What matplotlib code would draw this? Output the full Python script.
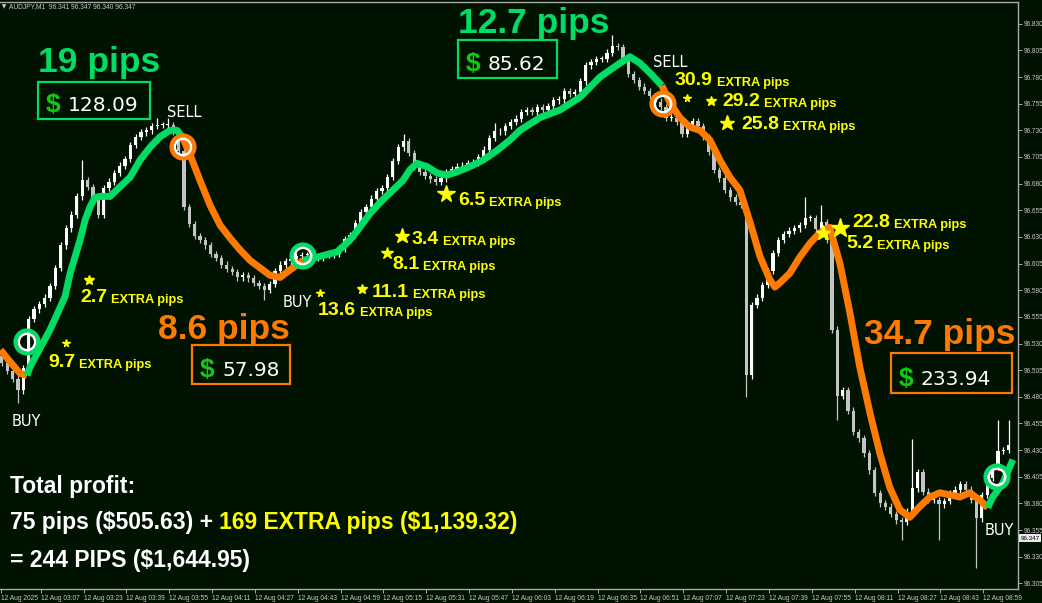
import numpy as np
import matplotlib
matplotlib.use('Agg')
import matplotlib.pyplot as plt
from matplotlib.patches import Circle, Rectangle

# ---- price data: 2-minute bars, AUDJPY 12 Aug 2025 from 02:52 ----
first_open = 96.518
closes = [
    96.512, 96.504, 96.497, 96.486, 96.507, 96.553, 96.562, 96.567, 96.573, 96.584,
    96.601, 96.622, 96.638, 96.651, 96.668, 96.683, 96.677, 96.666, 96.651, 96.676,
    96.682, 96.690, 96.697, 96.703, 96.716, 96.724, 96.728, 96.730, 96.734, 96.735,
    96.735, 96.735, 96.729, 96.711, 96.658, 96.642, 96.631, 96.627, 96.622, 96.614,
    96.610, 96.604, 96.600, 96.597, 96.592, 96.594, 96.591, 96.587, 96.584, 96.580,
    96.586, 96.598, 96.604, 96.607, 96.609, 96.612, 96.613, 96.613, 96.610, 96.610,
    96.613, 96.613, 96.614, 96.619, 96.628, 96.632, 96.643, 96.653, 96.658, 96.666,
    96.673, 96.676, 96.686, 96.701, 96.714, 96.720, 96.709, 96.696, 96.691, 96.687,
    96.684, 96.682, 96.685, 96.691, 96.694, 96.696, 96.697, 96.699, 96.700, 96.705,
    96.712, 96.723, 96.729, 96.729, 96.734, 96.738, 96.741, 96.747, 96.749, 96.747,
    96.752, 96.749, 96.753, 96.758, 96.759, 96.767, 96.764, 96.766, 96.776, 96.791,
    96.794, 96.797, 96.797, 96.803, 96.809, 96.808, 96.798, 96.783, 96.777, 96.771,
    96.767, 96.762, 96.757, 96.752, 96.742, 96.742, 96.738, 96.727, 96.733, 96.739,
    96.734, 96.724, 96.710, 96.693, 96.685, 96.674, 96.667, 96.663, 96.660, 96.500,
    96.566, 96.573, 96.585, 96.598, 96.615, 96.627, 96.633, 96.636, 96.638, 96.641,
    96.648, 96.648, 96.637, 96.644, 96.627, 96.543, 96.481, 96.486, 96.467, 96.447,
    96.441, 96.427, 96.411, 96.390, 96.380, 96.377, 96.370, 96.364, 96.363, 96.373,
    96.394, 96.409, 96.391, 96.383, 96.383, 96.379, 96.382, 96.390, 96.393, 96.398,
    96.393, 96.383, 96.366, 96.388, 96.404, 96.414, 96.429, 96.430, 96.435,
]
spike_highs = {15: 96.702, 29: 96.742, 31: 96.742, 75: 96.727, 92: 96.737, 114: 96.819,
               150: 96.667, 153: 96.660, 170: 96.440, 186: 96.458, 188: 96.458}
spike_lows = {3: 96.474, 49: 96.571, 139: 96.480, 156: 96.458, 168: 96.346,
              175: 96.346, 182: 96.319}

# trend band (minutes after 02:52, price)
band_minutes = [0, 3.5, 7.3, 9.9, 11.0, 18.5, 24.1, 26.0, 29.7, 31.6, 33.4, 35.3, 37.2, 40.9,
                44.6, 48.4, 52.1, 55.8, 59.6, 63.3, 65.9, 68.1, 70.8, 74.5, 78.2, 82.0, 85.7,
                89.4, 93.2, 96.9, 100.6, 104.4, 108.1, 113.0, 118.2, 125.7, 130.5, 134.2, 138.0,
                142.8, 146.6, 150.3, 152.9, 155.5, 159.3, 163.0, 166.7, 170.5, 175.3, 180.2,
                185.4, 190.3, 194.0, 201.5, 208.9, 216.4, 223.9, 231.3, 235.1, 238.8, 242.5,
                247.0, 250.0, 253.7, 257.5, 261.2, 264.9, 268.7, 272.4, 276.1, 279.9, 283.6,
                287.3, 289.2, 291.1, 294.8, 298.5, 302.3, 306.0, 309.7, 313.5, 317.2, 320.9,
                324.7, 328.4, 332.1, 335.9, 339.6, 343.3, 347.1, 350.8, 354.6, 358.3, 362.0,
                365.8, 368.7, 370.6, 374.3, 378.1]
band_prices = [96.524, 96.513, 96.502, 96.500, 96.508, 96.543, 96.574, 96.596, 96.627, 96.646,
               96.658, 96.667, 96.668, 96.668, 96.677, 96.686, 96.702, 96.714, 96.724, 96.730,
               96.730, 96.723, 96.707, 96.683, 96.660, 96.641, 96.629, 96.618, 96.608, 96.601,
               96.594, 96.592, 96.599, 96.608, 96.611, 96.616, 96.627, 96.639, 96.652, 96.665,
               96.674, 96.683, 96.693, 96.699, 96.696, 96.690, 96.688, 96.691, 96.696, 96.702,
               96.711, 96.721, 96.730, 96.742, 96.749, 96.761, 96.780, 96.793, 96.799, 96.793,
               96.784, 96.772, 96.756, 96.742, 96.733, 96.730, 96.721, 96.702, 96.686, 96.674,
               96.644, 96.612, 96.590, 96.583, 96.587, 96.596, 96.611, 96.624, 96.634, 96.639,
               96.605, 96.559, 96.508, 96.465, 96.427, 96.395, 96.374, 96.367, 96.377, 96.386,
               96.390, 96.388, 96.386, 96.390, 96.383, 96.376, 96.386, 96.399, 96.421]
band_turns = [0, 3, 21, 33, 61, 95, 98]   # trend flips: down, up, down, up, down, up

price_ticks = [96.305 + 0.025 * k for k in range(22)]
time_ticks = [0] + [15 + 16 * k for k in range(23)]
time_labels = ['12 Aug 2025', '12 Aug 03:07', '12 Aug 03:23', '12 Aug 03:39', '12 Aug 03:55',
               '12 Aug 04:11', '12 Aug 04:27', '12 Aug 04:43', '12 Aug 04:59', '12 Aug 05:15',
               '12 Aug 05:31', '12 Aug 05:47', '12 Aug 06:03', '12 Aug 06:19', '12 Aug 06:35',
               '12 Aug 06:51', '12 Aug 07:07', '12 Aug 07:23', '12 Aug 07:39', '12 Aug 07:55',
               '12 Aug 08:11', '12 Aug 08:27', '12 Aug 08:43', '12 Aug 08:59']

BG = '#001200'
GREEN = '#00dc64'
ORANGE = '#ff7a00'
YELLOW = '#ffff00'
DOLLAR = '#12c812'
AXC = '#a8a8a8'
SANS = ['Liberation Sans', 'DejaVu Sans']

W, H = 1042, 603
fig = plt.figure(figsize=(W / 100, H / 100), dpi=100, facecolor=BG)
ax = fig.add_axes([0, 14 / H, 1018 / W, 587 / H], facecolor=BG)
ax.set_xlim(-0.2, 380)
ax.set_ylim(96.2997, 96.8504)

# candles
closes_a = np.array(closes)
opens_a = np.r_[first_open, closes_a[:-1]]
bar_x = np.arange(len(closes)) * 2 + 0.5
highs = np.maximum(opens_a, closes_a) + 0.003
lows = np.minimum(opens_a, closes_a) - 0.003
for k, v in spike_highs.items():
    highs[k] = max(highs[k], v)
for k, v in spike_lows.items():
    lows[k] = min(lows[k], v)
up = closes_a >= opens_a
cols = np.where(up, '#ffffff', '#c4c4c4')
ax.vlines(bar_x, lows, highs, colors=cols, lw=0.9, zorder=3)
body = np.maximum(np.abs(closes_a - opens_a), 0.0008)
ax.bar(bar_x, body, bottom=np.minimum(opens_a, closes_a), width=1.2, color=cols, zorder=3)

# trend band
for s in range(len(band_turns) - 1):
    a, b = band_turns[s], band_turns[s + 1]
    c = ORANGE if s % 2 == 0 else GREEN
    ax.plot(band_minutes[a:b + 1], band_prices[a:b + 1], color=c, lw=5,
            solid_capstyle='butt', zorder=4)

# axes styling
ax.yaxis.tick_right()
ax.set_yticks(price_ticks)
ax.set_yticklabels([f'{p:.3f}' for p in price_ticks], fontfamily=SANS, fontsize=4.7,
                   color='#c8c8c8')
ax.set_xticks(time_ticks)
ax.set_xticklabels(time_labels, fontfamily=SANS, fontsize=4.8, color='#c8c8c8', ha='left')
ax.tick_params(axis='both', direction='out', length=3, width=0.7, color=AXC, pad=1.2)
for side in ['right', 'top', 'bottom']:
    ax.spines[side].set_color(AXC)
    ax.spines[side].set_linewidth(1)
ax.spines['left'].set_visible(False)

# ---- overlay in pixel coordinates ----
ov = fig.add_axes([0, 0, 1, 1], facecolor='none')
ov.set_xlim(0, W)
ov.set_ylim(H, 0)
ov.axis('off')

ov.text(2, 6.5, '▼', fontsize=4, color='#d0d0d0', va='center')
ov.text(9, 6.5, 'AUDJPY,M1  96.341 96.347 96.340 96.347', fontsize=4.8, color='#c8c8c8',
        va='center', fontfamily=SANS)
ov.text(1020.5, 538, '96.347', fontsize=4.5, color='#000000', va='center', fontfamily=SANS,
        bbox=dict(boxstyle='square,pad=0.2', fc='#e8e8e8', ec='none'))

# trade result headlines
for x, y, s, c in [(38, 72, '19 pips', GREEN), (458, 33, '12.7 pips', GREEN),
                   (158, 339, '8.6 pips', ORANGE), (864, 344, '34.7 pips', ORANGE)]:
    ov.text(x, y, s, fontsize=25.5, fontweight='bold', color=c, fontfamily=SANS,
            va='baseline')

# profit boxes
for (l, t, r, b), c, val in [((38, 82, 150, 119), GREEN, '128.09'),
                             ((192, 345, 290, 384), ORANGE, '57.98'),
                             ((458, 40, 557, 78), GREEN, '85.62'),
                             ((891, 353, 1012, 393), ORANGE, '233.94')]:
    ov.add_patch(Rectangle((l, t), r - l, b - t, fill=False, ec=c, lw=1.6))
    ov.text(l + 8, b - 7, '$', fontsize=19, fontweight='bold', color=DOLLAR,
            fontfamily=SANS, va='baseline')
    ov.text(l + 30, b - 8, val, fontsize=14.5, color='#ffffff', va='baseline')

# signal labels
for x, y, s in [(167, 117, 'SELL'), (653, 67, 'SELL'), (12, 426, 'BUY'),
                (283, 307, 'BUY'), (985, 535, 'BUY')]:
    ov.text(x, y, s, fontsize=10.5, color='#ffffff', va='baseline')

# signal circles
for cx, cy, c in [(27, 342, GREEN), (183, 147, ORANGE), (303, 256, GREEN),
                  (663, 104, ORANGE), (997, 477, GREEN)]:
    ov.add_patch(Circle((cx, cy), 11.5, fill=False, ec=c, lw=3.0, zorder=6))
    ov.add_patch(Circle((cx, cy), 8.2, fill=False, ec='#ffffff', lw=1.8, zorder=6))

# extra pips labels: (x, baseline, number)
extras = [(80, 302, '2.7'), (48, 367, '9.7'), (318, 315, '13.6'), (372, 297, '11.1'),
          (392, 269, '8.1'), (412, 244, '3.4'), (458, 205, '6.5'), (675, 85, '30.9'),
          (722, 106, '29.2'), (741, 129, '25.8'), (852, 227, '22.8'), (846, 248, '5.2')]
for x, y, s in extras:
    t = ov.text(x, y, s, fontsize=14, fontweight='bold', color=YELLOW, fontfamily=SANS,
                va='baseline')
    ov.annotate('EXTRA pips', xy=(1, 0), xycoords=t, xytext=(3, 0),
                textcoords='offset points', fontsize=9.2, fontweight='bold', color=YELLOW,
                fontfamily=SANS, va='bottom')

stars = [(89, 280, 8), (66, 343, 6), (320, 293, 6), (362, 289, 8), (387, 253, 10),
         (402, 236, 12), (446, 194, 14), (687, 98, 6), (711, 101, 8), (727, 123, 12),
         (823, 233, 12), (840, 228, 15)]
for x, y, sz in stars:
    ov.plot(x, y, marker='*', ms=sz / 1.39 * 1.3, color=YELLOW, mec=YELLOW, zorder=7)

# total profit
ov.text(10, 493, 'Total profit:', fontsize=16.5, fontweight='bold', color='#ffffff',
        fontfamily=SANS, va='baseline')
t2 = ov.text(10, 529, '75 pips ($505.63) +', fontsize=16.5, fontweight='bold',
             color='#ffffff', fontfamily=SANS, va='baseline')
ov.annotate('169 EXTRA pips ($1,139.32)', xy=(1, 0), xycoords=t2, xytext=(4, 0),
            textcoords='offset points', fontsize=16.5, fontweight='bold', color=YELLOW,
            fontfamily=SANS, va='bottom')
ov.text(10, 567, '= 244 PIPS ($1,644.95)', fontsize=16.5, fontweight='bold', color='#ffffff',
        fontfamily=SANS, va='baseline')

fig.savefig('out.png', dpi=100, facecolor=BG)
